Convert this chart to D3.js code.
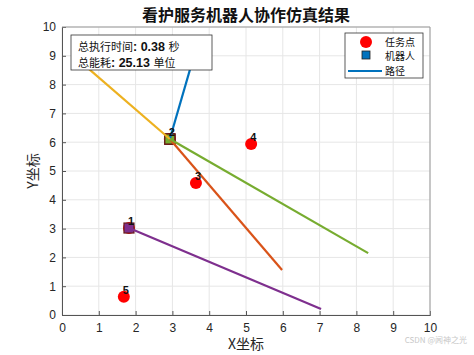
<!DOCTYPE html>
<html>
<head>
<meta charset="utf-8">
<script src="https://cdn.jsdelivr.net/npm/d3@7"></script>
<style>
  body { margin: 0; background: #fff; }
  svg { display: block; font-family: "Liberation Sans", Arial, sans-serif; }
</style>
</head>
<body>
<svg id="chart"></svg>
<script>
// Task points
const taskIds = ["1", "2", "3", "4", "5"];
const taskX = [1.82, 2.93, 3.64, 5.14, 1.68];
const taskY = [3.02, 6.11, 4.58, 5.94, 0.63];

// Robot paths (start -> end), one per robot
const pathStartX = [2.93, 2.93, 2.93, 1.82, 2.93];
const pathStartY = [6.11, 6.11, 6.11, 3.02, 6.11];
const pathEndX = [3.7, 5.98, 0.5, 7.04, 8.32];
const pathEndY = [9.5, 1.56, 8.8, 0.21, 2.15];
const pathColors = ["#0072BD", "#D95319", "#EDB120", "#7E2F8E", "#77AC30"];

const ticks = [0, 1, 2, 3, 4, 5, 6, 7, 8, 9, 10];
const legendLabels = ["任务点", "机器人", "路径"];
const infoLines = [["总执行时间", "0.38", "秒"], ["总能耗", "25.13", "单位"]];

const W = 474, H = 355;
const margin = { top: 27, right: 44, bottom: 40, left: 62 };
const width = W - margin.left - margin.right;
const height = H - margin.top - margin.bottom;

const svg = d3.select("#chart").attr("width", W).attr("height", H);
const g = svg.append("g").attr("transform", `translate(${margin.left},${margin.top})`);

const x = d3.scaleLinear().domain([0, 10]).range([0, width]);
const y = d3.scaleLinear().domain([0, 10]).range([height, 0]);

// grid
g.append("g").selectAll("line").data(ticks).enter().append("line")
  .attr("x1", d => x(d)).attr("x2", d => x(d)).attr("y1", 0).attr("y2", height)
  .attr("stroke", "#e6e6e6").attr("stroke-width", 1);
g.append("g").selectAll("line").data(ticks).enter().append("line")
  .attr("y1", d => y(d)).attr("y2", d => y(d)).attr("x1", 0).attr("x2", width)
  .attr("stroke", "#e6e6e6").attr("stroke-width", 1);

// axes
const axisColor = "#555";
const xAxis = g.append("g").attr("transform", `translate(0,${height})`)
  .call(d3.axisBottom(x).tickValues(ticks).tickSize(-4).tickPadding(8));
const yAxis = g.append("g")
  .call(d3.axisLeft(y).tickValues(ticks).tickSize(-4).tickPadding(6));
[xAxis, yAxis].forEach(a => {
  a.select(".domain").attr("stroke", axisColor);
  a.selectAll(".tick line").attr("stroke", axisColor);
  a.selectAll(".tick text").attr("fill", "#262626").attr("font-size", 12)
    .attr("font-family", "Liberation Sans, Arial, sans-serif");
});
// box top/right
g.append("line").attr("x1", 0).attr("x2", width).attr("y1", 0).attr("y2", 0)
  .attr("stroke", "#999");
g.append("line").attr("x1", width).attr("x2", width).attr("y1", 0).attr("y2", height)
  .attr("stroke", "#999");

// task points
g.selectAll(".task").data(taskIds).enter().append("circle")
  .attr("cx", (d, i) => x(taskX[i])).attr("cy", (d, i) => y(taskY[i]))
  .attr("r", 6).attr("fill", "#ff0000");

// robot markers (robot i sits at its path start)
g.selectAll(".robot").data(pathColors).enter().append("rect")
  .attr("x", (d, i) => x(pathStartX[i]) - 5).attr("y", (d, i) => y(pathStartY[i]) - 5)
  .attr("width", 10).attr("height", 10)
  .attr("fill", d => d).attr("stroke", "#6b1a1a").attr("stroke-width", 1.2);

// paths
g.selectAll(".path").data(pathColors).enter().append("line")
  .attr("x1", (d, i) => x(pathStartX[i])).attr("y1", (d, i) => y(pathStartY[i]))
  .attr("x2", (d, i) => x(pathEndX[i])).attr("y2", (d, i) => y(pathEndY[i]))
  .attr("stroke", d => d).attr("stroke-width", 2.2);

// task labels
g.selectAll(".lbl").data(taskIds).enter().append("text")
  .attr("x", (d, i) => x(taskX[i]) - 1).attr("y", (d, i) => y(taskY[i]) - 3)
  .attr("font-size", 11).attr("font-weight", "bold").attr("fill", "#111")
  .text(d => d);

// info box
const cjk = "'Noto Sans CJK SC', sans-serif";
svg.append("rect").attr("x", 71).attr("y", 35).attr("width", 141).attr("height", 35)
  .attr("fill", "#fff").attr("stroke", "#333").attr("stroke-width", 0.8);
infoLines.forEach((ln, k) => {
  const t = svg.append("text").attr("x", 78).attr("y", 50.5 + k * 16)
    .attr("font-size", 11).attr("font-family", cjk).attr("fill", "#111");
  t.append("tspan").text(ln[0]);
  t.append("tspan").attr("font-weight", "bold").attr("font-size", 12.5)
    .attr("font-family", "Liberation Sans, Arial, sans-serif").text(": " + ln[1] + " ");
  t.append("tspan").text(ln[2]);
});

// legend
const lg = svg.append("g");
lg.append("rect").attr("x", 345).attr("y", 33).attr("width", 78).attr("height", 45)
  .attr("fill", "#fff").attr("stroke", "#333").attr("stroke-width", 0.8);
lg.append("circle").attr("cx", 366).attr("cy", 42).attr("r", 6).attr("fill", "#ff0000");
lg.append("rect").attr("x", 362).attr("y", 51).attr("width", 8).attr("height", 8)
  .attr("fill", "#0072BD").attr("stroke", "#222").attr("stroke-width", 0.8);
lg.append("line").attr("x1", 348).attr("x2", 382).attr("y1", 71).attr("y2", 71)
  .attr("stroke", "#0072BD").attr("stroke-width", 2);
legendLabels.forEach((s, i) => {
  lg.append("text").attr("x", 385).attr("y", 45.5 + i * 14.5)
    .attr("font-size", 10).attr("font-family", cjk).attr("fill", "#111").text(s);
});

// title and axis labels
svg.append("text").attr("x", 246).attr("y", 21).attr("text-anchor", "middle")
  .attr("font-size", 16).attr("font-weight", "bold").attr("font-family", cjk)
  .attr("fill", "#111").text("看护服务机器人协作仿真结果");
svg.append("text").attr("x", 246).attr("y", 349).attr("text-anchor", "middle")
  .attr("font-size", 14).attr("font-family", cjk).attr("fill", "#262626").text("X坐标");
svg.append("text").attr("transform", "translate(38,171) rotate(-90)")
  .attr("text-anchor", "middle").attr("font-size", 14).attr("font-family", cjk)
  .attr("fill", "#262626").text("Y坐标");

// watermark
svg.append("text").attr("x", 467).attr("y", 343).attr("text-anchor", "end")
  .attr("font-size", 8).attr("font-family", cjk).attr("fill", "#c8c8c8")
  .text("CSDN @闻神之光");
</script>
</body>
</html>
